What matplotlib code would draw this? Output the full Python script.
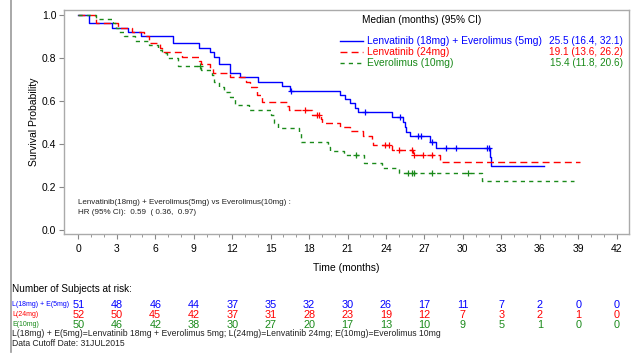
import numpy as np
import matplotlib
matplotlib.use('Agg')
from matplotlib import pyplot as plt
from matplotlib.lines import Line2D

plt.rcParams['font.family'] = ['Liberation Sans', 'DejaVu Sans']

W, H = 644, 359

groups = ['Lenvatinib (18mg) + Everolimus (5mg)', 'Lenvatinib (24mg)', 'Everolimus (10mg)']
short = ['L(18mg) + E(5mg)', 'L(24mg)', 'E(10mg)']
medians = ['25.5 (16.4, 32.1)', '19.1 (13.6, 26.2)', '15.4 (11.8, 20.6)']
colors = ['#0000ff', '#ff0000', '#1a8a1a']

# step curves: event times and survival after each step
le_t = [0, 0.8, 2.6, 3.9, 4.9, 7.4, 9.4, 10.3, 10.6, 11.0, 11.8, 12.6, 14.0, 15.9, 16.5,
        20.4, 20.8, 21.2, 21.6, 21.8, 24.5, 25.3, 25.5, 25.6, 25.9, 27.4, 27.9, 32.1, 32.2]
le_s = [1.0, 0.96, 0.94, 0.92, 0.90, 0.867, 0.845, 0.825, 0.805, 0.77, 0.73, 0.71, 0.689, 0.669, 0.647,
        0.627, 0.608, 0.588, 0.567, 0.547, 0.526, 0.503, 0.48, 0.457, 0.437, 0.41, 0.379, 0.34, 0.297]
le_end = 36.3
le_cens = [16.6, 22.4, 25.1, 26.5, 26.7, 27.6, 28.7, 29.5, 31.9, 32.0]

l24_t = [0, 1.3, 1.4, 3.1, 4.2, 5.1, 5.5, 5.6, 6.4, 6.5, 8.1, 9.4, 9.6, 10.3, 10.5, 11.8, 13.1, 13.4,
         13.9, 14.3, 16.3, 16.4, 18.2, 18.9, 19.0, 20.4, 21.2, 22.2, 22.9, 23.0, 24.5, 26.1, 28.2]
l24_s = [1.0, 0.98, 0.96, 0.94, 0.92, 0.90, 0.88, 0.867, 0.845, 0.825, 0.805, 0.785, 0.771, 0.751, 0.731,
         0.71, 0.689, 0.666, 0.627, 0.596, 0.576, 0.557, 0.534, 0.515, 0.496, 0.478, 0.459, 0.437, 0.413,
         0.395, 0.372, 0.348, 0.317]
l24_end = 39.1
l24_cens = [17.7, 18.6, 18.8, 23.9, 24.2, 25.0, 26.0, 26.2, 26.9, 27.6]

e10_t = [0, 1.4, 2.7, 2.9, 3.2, 3.6, 4.4, 5.5, 6.2, 6.5, 6.9, 7.8, 9.6, 10.4, 10.6, 11.0, 11.4, 11.8,
         12.2, 13.3, 15.0, 15.3, 15.6, 17.2, 17.4, 19.5, 19.6, 20.7, 22.3, 23.7, 25.0, 31.5]
e10_s = [1.0, 0.98, 0.96, 0.94, 0.92, 0.90, 0.88, 0.86, 0.836, 0.82, 0.80, 0.762, 0.743, 0.72, 0.689,
         0.665, 0.64, 0.619, 0.58, 0.557, 0.534, 0.496, 0.472, 0.45, 0.41, 0.387, 0.368, 0.348, 0.31,
         0.287, 0.263, 0.229]
e10_end = 38.7
e10_cens = [9.5, 21.7, 25.7, 26.0, 26.2, 27.6, 30.4]

curves = [(le_t, le_s, le_end, le_cens), (l24_t, l24_s, l24_end, l24_cens),
          (e10_t, e10_s, e10_end, e10_cens)]
styles = ['-', (0, (5, 3)), (0, (3, 3))]

risk_times = list(range(0, 43, 3))
risk_le = [51, 48, 46, 44, 37, 35, 32, 30, 26, 17, 11, 7, 2, 0, 0]
risk_l24 = [52, 50, 45, 42, 37, 31, 28, 23, 19, 12, 7, 3, 2, 1, 0]
risk_e10 = [50, 46, 42, 38, 30, 27, 20, 17, 13, 10, 9, 5, 1, 0, 0]
risks = [risk_le, risk_l24, risk_e10]


def fx(px):
    return px / W


def fy(py):
    return 1 - py / H


fig = plt.figure(figsize=(W / 100, H / 100), dpi=100)
ax = fig.add_axes([fx(64), fy(234), fx(629) - fx(64), fy(10) - fy(234)])

for (t, s, end, cens), c, ls in zip(curves, colors, styles):
    tt = np.array(t + [end])
    ss = np.array(s + [s[-1]])
    ax.step(tt, ss, where='post', color=c, lw=1.0, linestyle=ls)
    idx = np.searchsorted(np.array(t), cens, side='right') - 1
    ax.plot(cens, np.array(s)[idx], linestyle='none', marker='+', ms=5, mew=0.9, color=c)

ax.set_xlim(-1.12, 42.96)
ax.set_ylim(-0.019, 1.022)
ax.set_xticks(risk_times)
ax.set_xticks(range(0, 43), minor=True)
ax.set_yticks([0, 0.2, 0.4, 0.6, 0.8, 1.0])
ax.set_yticklabels(['0.0', '0.2', '0.4', '0.6', '0.8', '1.0'])
ax.tick_params(labelsize=7.5, color='#888888', length=3.5, width=0.8)
ax.tick_params(axis='y', pad=2)
ax.tick_params(which='minor', color='#888888', length=2.5, width=0.6)
for sp in ax.spines.values():
    sp.set_color('#aaaaaa')
    sp.set_linewidth(1.0)
ax.set_ylabel('Survival Probability', fontsize=7.5, labelpad=2)
ax.set_xlabel('Time (months)', fontsize=7.5, labelpad=7)

# legend with medians
fig.text(fx(422), fy(20), 'Median (months) (95% CI)', fontsize=7.3, ha='center', va='center')
for i, (g, m, c, ls) in enumerate(zip(groups, medians, colors, styles)):
    yy = fy(41 + 11 * i)
    fig.add_artist(Line2D([fx(340), fx(363)], [yy, yy], color=c, lw=1.0, linestyle=ls))
    fig.text(fx(367), yy, g, color=c, fontsize=7.4, ha='left', va='center')
    fig.text(fx(623), yy, m, color=c, fontsize=7.2, ha='right', va='center')

fig.text(fx(78), fy(202), 'Lenvatinib(18mg) + Everolimus(5mg) vs Everolimus(10mg) :',
         fontsize=5.8, ha='left', va='center', color='#222222')
fig.text(fx(78), fy(212), 'HR (95% CI):  0.59  ( 0.36,  0.97)',
         fontsize=5.8, ha='left', va='center', color='#222222')

# risk table
fig.text(fx(12), fy(289), 'Number of Subjects at risk:', fontsize=7.2, ha='left', va='center')
trans = matplotlib.transforms.blended_transform_factory(ax.transData, fig.transFigure)
for i, (lab, row, c) in enumerate(zip(short, risks, colors)):
    yy = fy(305 + 10 * i)
    fig.text(fx(12), yy, lab, fontsize=5, color=c, ha='left', va='center')
    for t, n in zip(risk_times, row):
        ax.text(t, yy, str(n), transform=trans, fontsize=7.8, color=c,
                ha='center', va='center', clip_on=False)

fig.text(fx(12), fy(334), 'L(18mg) + E(5mg)=Lenvatinib 18mg + Everolimus 5mg; '
         'L(24mg)=Lenvatinib 24mg; E(10mg)=Everolimus 10mg',
         fontsize=6.2, ha='left', va='center', color='#222222')
fig.text(fx(12), fy(344), 'Data Cutoff Date: 31JUL2015', fontsize=6.2, ha='left', va='center',
         color='#222222')

fig.add_artist(Line2D([fx(10.5), fx(10.5)], [fy(0), fy(352)], color='#999999', lw=1.2))

fig.savefig('out.png', dpi=100)
